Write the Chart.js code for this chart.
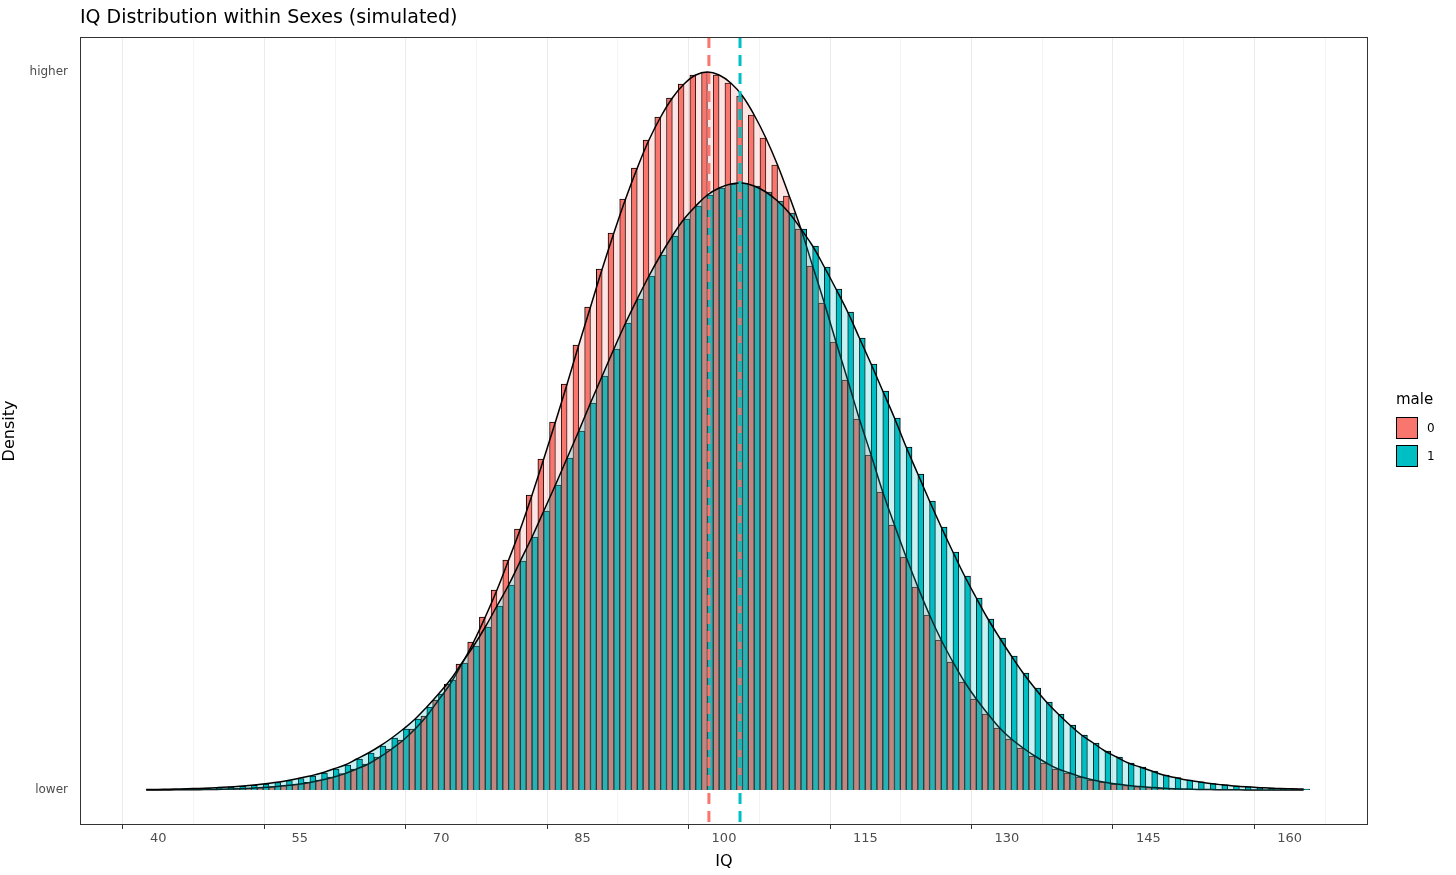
<!DOCTYPE html>
<html><head><meta charset="utf-8">
<script src="https://cdn.jsdelivr.net/npm/chart.js@4"></script>
<style>
body{margin:0;background:#fff;font-family:"DejaVu Sans",sans-serif;}
#wrap{position:relative;width:1456px;height:875px;}
#title{position:absolute;left:80px;top:5px;font-size:19px;color:#000;}
#leg{position:absolute;left:1396px;top:390px;font-size:15px;color:#000;}
.it{display:flex;align-items:center;height:28px;font-size:12px;}
.bx{width:22px;height:22px;border:1.5px solid #000;margin-right:9px;box-sizing:border-box;}
</style></head><body>
<div id="wrap">
<canvas id="c" width="1456" height="875"></canvas>
<div id="title">IQ Distribution within Sexes (simulated)</div>
<div id="leg"><div style="margin-bottom:6px">male</div>
<div class="it"><div class="bx" style="background:#F8766D"></div>0</div>
<div class="it"><div class="bx" style="background:#00BFC4"></div>1</div></div>
</div>
<script>
const binStart = 38.1, binWidth = 1.24;
const female = [0,0,0.1,0.2,0.3,0.4,0.6,0.9,1.3,1.8,2.4,3.3,4.4,5.8,7.6,9.9,12.8,16.4,21,26,33,41,50,61,74,90,106,126,148,173,200,230,261,295,331,368,406,445,483,521,557,591,622,650,673,692,706,715,718,715,707,694,675,652,625,594,561,524,487,448,410,371,335,298,265,233,203,175,150,128,108,91,76,62,51,42,34,27,21,17,13,10,7.8,6,4.5,3.4,2.5,1.8,1.3,0.9,0.6,0.4,0.3,0.2,0.1,0.1,0,0,0,0];
const male = [0.5,0.6,0.8,1.1,1.4,1.8,2.3,2.9,3.7,4.7,6,7.5,9.3,11.5,14,17,21,25,31,37,44,52,61,71,83,96,110,127,144,163,184,205,229,253,279,305,332,359,387,414,441,467,491,514,535,554,571,584,595,602,606,607,604,598,589,577,561,544,523,501,478,452,426,399,372,343,316,289,263,238,214,192,171,152,134,117,102,88,76,65,55,47,39,33,27,23,19,15,12.5,10,8.2,6.5,5.2,4.1,3.2,2.5,2,1.5,1.2,0.9];
const femaleMean = 98.4, maleMean = 101.7;
const yTicks = [{v:0,l:'lower'},{v:718,l:'higher'}];

const centers = female.map((_,i)=>binStart+binWidth*(i+0.5));
const pts = arr => arr.map((v,i)=>({x:centers[i],y:v}));

const frame = {id:'frame',
  afterDatasetsDraw(ch){
    const {ctx,chartArea:a,scales:{x}} = ch;
    ctx.save();
    [[femaleMean,'#F8766D'],[maleMean,'#00BFC4']].forEach(([m,c])=>{
      const px=x.getPixelForValue(m);
      ctx.strokeStyle=c;ctx.lineWidth=3;ctx.setLineDash([11,7]);
      ctx.beginPath();ctx.moveTo(px,a.top);ctx.lineTo(px,a.bottom);ctx.stroke();
    });
    ctx.setLineDash([]);ctx.strokeStyle='#333';ctx.lineWidth=1;
    ctx.strokeRect(a.left+0.5,a.top+0.5,a.right-a.left-1,a.bottom-a.top-1);
    ctx.restore();
  }};

new Chart(document.getElementById('c'),{
  data:{datasets:[
    {type:'bar',data:pts(female),backgroundColor:'#F8766D',borderColor:'#000',borderWidth:1,barPercentage:1,categoryPercentage:1,order:3},
    {type:'bar',data:pts(male),backgroundColor:'#00BFC4',borderColor:'#000',borderWidth:1,barPercentage:1,categoryPercentage:1,order:3},
    {type:'line',data:pts(female),borderColor:'#000',borderWidth:1.5,backgroundColor:'rgba(248,118,109,0.2)',fill:'origin',pointRadius:0,tension:0.4,order:2},
    {type:'line',data:pts(male),borderColor:'#000',borderWidth:1.5,backgroundColor:'rgba(0,191,196,0.22)',fill:'origin',pointRadius:0,tension:0.4,order:1}
  ]},
  options:{responsive:false,animation:false,
    layout:{padding:{top:37,right:88,left:0,bottom:0}},
    plugins:{legend:{display:false},tooltip:{enabled:false}},
    scales:{
      x:{type:'linear',min:31.7,max:168.3,offset:false,
        afterBuildTicks(s){const t=[];for(let v=32.5;v<=168;v+=7.5)t.push({value:v});s.ticks=t;},
        afterFit(s){s.height=50;},
        ticks:{autoSkip:false,maxRotation:0,font:{size:13,family:'DejaVu Sans'},color:'#4d4d4d',padding:2,
          callback:v=>((v-40)%15===0?String(v):'')},
        grid:{color:c=>((c.tick&&(c.tick.value-40)%15===0)?'#ebebeb':'#f4f4f4'),
          tickColor:c=>((c.tick&&(c.tick.value-40)%15===0)?'#333':'rgba(0,0,0,0)'),tickLength:4},
        border:{display:false},
        title:{display:true,text:'IQ',font:{size:16,family:'DejaVu Sans'},color:'#000',padding:{top:0}}},
      y:{min:-35,max:753,
        afterBuildTicks(s){s.ticks=yTicks.map(t=>({value:t.v}));},
        afterFit(s){s.width=80;},
        ticks:{font:{size:12,family:'DejaVu Sans'},color:'#4d4d4d',padding:4,
          callback:v=>{const t=yTicks.find(q=>q.v===v);return t?t.l:'';}},
        grid:{display:false,drawTicks:true},border:{display:false},
        title:{display:true,text:'Density',font:{size:16,family:'DejaVu Sans'},color:'#000',padding:0}}
    }},
  plugins:[frame]
});
</script></body></html>
